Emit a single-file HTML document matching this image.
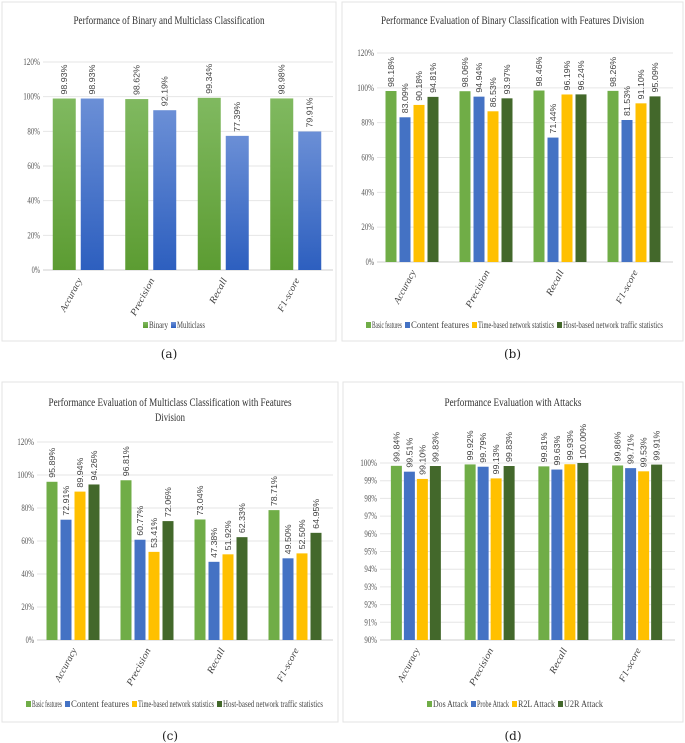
<!DOCTYPE html>
<html><head><meta charset="utf-8"><style>
body{margin:0;background:#fff;}
svg{display:block;font-family:"Liberation Serif",serif;}
</style></head><body>
<svg id="s" width="685" height="743" viewBox="0 0 685 743">
<defs>
<linearGradient id="gG" x1="0" y1="0" x2="0" y2="1"><stop offset="0" stop-color="#80b960"/><stop offset="1" stop-color="#5c9c32"/></linearGradient>
<linearGradient id="gB" x1="0" y1="0" x2="0" y2="1"><stop offset="0" stop-color="#6b8fd6"/><stop offset="1" stop-color="#2d5fbf"/></linearGradient>
</defs>
</svg>
<script>
const categories=["Accuracy","Precision","Recall","F1-score"];
const aBinary=[98.93,98.62,99.34,98.98];
const aMulti=[98.93,92.19,77.39,79.91];
const bBasic=[98.18,98.06,98.46,98.26];
const bContent=[83.09,94.94,71.44,81.53];
const bTime=[90.18,86.53,96.19,91.10];
const bHost=[94.81,93.97,96.24,95.09];
const cBasic=[95.89,96.81,73.04,78.71];
const cContent=[72.91,60.77,47.38,49.50];
const cTime=[89.94,53.41,51.92,52.50];
const cHost=[94.26,72.06,62.33,64.95];
const dDos=[99.84,99.92,99.81,99.86];
const dProbe=[99.51,99.79,99.63,99.71];
const dR2L=[99.10,99.13,99.93,99.53];
const dU2R=[99.83,99.83,100.00,99.91];
const featNames=["Basic features","Content features","Time-based network statistics","Host-based network traffic statistics"];
const attackNames=["Dos Attack","Probe Attack","R2L Attack","U2R Attack"];
const ticks120=[0,20,40,60,80,100,120];
const ticks90=[90,91,92,93,94,95,96,97,98,99,100];

const S=document.getElementById('s');
const NS='http://www.w3.org/2000/svg';
function mk(tag,attrs,parent,txt){const e=document.createElementNS(NS,tag);for(const k in attrs)e.setAttribute(k,attrs[k]);if(txt!==undefined)e.textContent=txt;(parent||S).appendChild(e);return e;}

function panel(p){
  const g=mk('g',{});
  
  
  const fr=mk('rect',{x:p.fx,y:p.fy,width:p.fw,height:p.fh,fill:'#fff',stroke:'#e3e3e3','stroke-width':1},g);
  
  
  p.title.forEach((t,i)=>{
    const te=mk('text',{x:p.fx+p.fw/2,y:p.ty+i*15,'text-anchor':'middle','font-size':11.5,fill:'#333',textLength:p.tw[i],lengthAdjust:'spacingAndGlyphs'},g,t);
    
    
  });
  const y=v=>p.y0+(v-p.vmin)/(p.vmax-p.vmin)*(p.y1-p.y0);
  p.ticks.forEach(t=>{
    const ln=mk('line',{x1:p.left,x2:p.right,y1:y(t),y2:y(t),stroke:t===p.vmin?'#cfcfcf':'#e6e6e6','stroke-width':1},g);
    
    
    const s=t+'%';
    const tl=mk('text',{x:p.left-3,y:y(t)+3,'text-anchor':'end','font-size':9,fill:'#555',textLength:s.length*4.2,lengthAdjust:'spacingAndGlyphs'},g,s);
    
    
  });
  const slot=(p.right-p.left)/categories.length;
  const n=p.series.length;
  categories.forEach((c,ci)=>{
    const cx=p.left+slot*(ci+0.5)+(p.shift||0);
    p.series.forEach((ser,si)=>{
      const v=ser[ci];
      const bx=cx+(si-(n-1)/2)*p.step-p.bw/2;
      const r=mk('rect',{x:bx,y:y(v),width:p.bw,height:p.y0-y(v),fill:p.colors[si]},g);
      
      
      const lx=bx+p.bw/2+3, ly=y(v)-4;
      const s=(v.toFixed(2)+'%');
      const lt=mk('text',{x:lx,y:ly,transform:`rotate(-90 ${lx} ${ly})`,'font-size':8.5,fill:'#404040','font-family':'Liberation Sans, sans-serif',textLength:s.length*5,lengthAdjust:'spacingAndGlyphs'},g,s);
      
      
    });
    const ax=cx+4, ay=p.y0+10;
    const ct=mk('text',{x:ax,y:ay,transform:`rotate(-62 ${ax} ${ay})`,'text-anchor':'end','font-size':9.5,'font-style':'italic',fill:'#444',textLength:c.length*4.6,lengthAdjust:'spacingAndGlyphs'},g,c);
    
    
  });
  const lg=mk('g',{},g);
  
  
  p.legend.forEach((t,i)=>{
    const x=p.lx[i];
    const nx=i<p.legend.length-1?p.lx[i+1]-3:p.lend;
    const sq=mk('rect',{x:x,y:p.ly-6,width:5,height:6,fill:p.colors[i]},lg);
    
    
    const lt=mk('text',{x:x+6,y:p.ly,'font-size':9,fill:'#444',textLength:nx-x-6,lengthAdjust:'spacingAndGlyphs'},lg,t);
    
    
  });
  const cap=mk('text',{x:p.fx+p.fw/2,y:p.cy,'text-anchor':'middle','font-size':12,fill:'#222','font-family':'DejaVu Serif, serif'},g,p.cap);
  
  
}
const four=['#70ad47','#4472c4','#ffc000','#43682b'];
panel({id:'chart-a',fx:2,fy:2,fw:334,fh:339,title:['Performance of Binary and Multiclass Classification'],tw:[191],ty:24,
  left:43,right:333,y0:270,y1:62,vmin:0,vmax:120,ticks:ticks120,series:[aBinary,aMulti],colors:['url(#gG)','url(#gB)'],
  bw:23,step:28,shift:-1,legend:['Binary','Multiclass'],lx:[143,171],lend:205,ly:328,cap:'(a)',cy:358});
panel({id:'chart-b',fx:342,fy:2,fw:341,fh:339,title:['Performance Evaluation of Binary Classification with Features Division'],tw:[263],ty:24,
  left:377,right:673,y0:262,y1:53,vmin:0,vmax:120,ticks:ticks120,series:[bBasic,bContent,bTime,bHost],colors:four,
  bw:11,step:14,shift:-2,legend:featNames,lx:[366,405,472,557],lend:663,ly:328,cap:'(b)',cy:358});
panel({id:'chart-c',fx:2,fy:382,fw:336,fh:340,title:['Performance Evaluation of Multiclass Classification with Features','Division'],tw:[243,30],ty:406,
  left:37,right:333,y0:640,y1:442,vmin:0,vmax:120,ticks:ticks120,series:[cBasic,cContent,cTime,cHost],colors:four,
  bw:11,step:14,shift:-1,legend:featNames,lx:[26,65,132,217],lend:323,ly:707,cap:'(c)',cy:740});
panel({id:'chart-d',fx:343,fy:382,fw:340,fh:340,title:['Performance Evaluation with Attacks'],tw:[137],ty:406,
  left:380,right:675,y0:640,y1:463,vmin:90,vmax:100,ticks:ticks90,series:[dDos,dProbe,dR2L,dU2R],colors:four,
  bw:11,step:13,shift:-1,legend:attackNames,lx:[427,471,512,558],lend:603,ly:707,cap:'(d)',cy:740});
</script>
</body></html>
